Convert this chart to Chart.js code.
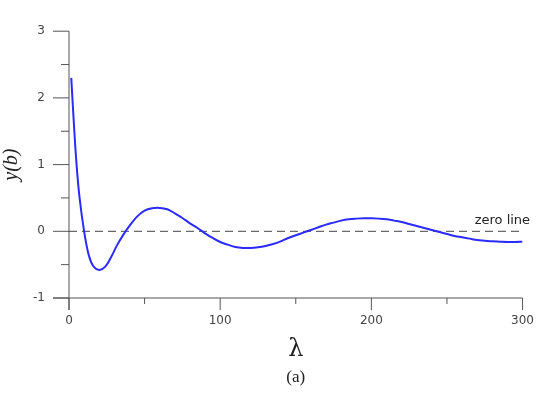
<!DOCTYPE html>
<html>
<head>
<meta charset="utf-8">
<script src="https://cdn.jsdelivr.net/npm/chart.js@4"></script>
<style>
  html, body { margin: 0; padding: 0; background: #fff; }
  #wrap { width: 550px; height: 404px; }
</style>
</head>
<body>
<div id="wrap"><canvas id="graf"></canvas></div>
<script>
// hodnoty
const lambdas = [1.5, 3, 5, 7, 10, 13, 16, 20, 24, 28, 32, 36, 40, 45, 50, 55, 60, 65, 70, 75, 80, 85, 90, 95, 100,
  105, 110, 115, 120, 125, 130, 135, 140, 145, 150, 155, 160, 165, 170, 175, 180, 185, 190, 195, 200,
  205, 210, 215, 220, 225, 230, 235, 240, 245, 250, 255, 260, 265, 270, 275, 280, 285, 290, 295, 300];
const yValues = [2.3, 1.7, 1.0, 0.5, 0.0, -0.35, -0.52, -0.58, -0.53, -0.38, -0.2, -0.05, 0.08, 0.22, 0.31, 0.345, 0.35, 0.33, 0.27, 0.2, 0.12, 0.05, -0.03, -0.1, -0.16,
  -0.2, -0.235, -0.25, -0.25, -0.24, -0.22, -0.19, -0.15, -0.1, -0.06, -0.02, 0.02, 0.06, 0.1, 0.13, 0.16, 0.18, 0.19, 0.195, 0.195,
  0.19, 0.18, 0.16, 0.14, 0.11, 0.08, 0.05, 0.02, -0.01, -0.04, -0.07, -0.09, -0.11, -0.13, -0.14, -0.15, -0.155, -0.16, -0.16, -0.155];
const zeroLine = [{x: 0, y: 0}, {x: 300, y: 0}];
const xMajor = [0, 100, 200, 300];
const xMinor = [50, 150, 250];
const yMajor = [-1, 0, 1, 2, 3];
const yMinor = [-0.5, 0.5, 1.5, 2.5];

const axisColor = '#555';

// osy, tiky a popisky kreslíme sami
const osyPlugin = {
  id: 'osy',
  afterDraw(chart) {
    const c = chart.ctx, xs = chart.scales.x, ys = chart.scales.y;
    const x0 = xs.getPixelForValue(0), y0 = ys.getPixelForValue(-1);
    c.save();
    c.strokeStyle = axisColor;
    c.lineWidth = 1;
    c.beginPath();
    c.moveTo(x0, ys.getPixelForValue(3)); c.lineTo(x0, y0 + 12);
    c.moveTo(x0 - 16, y0); c.lineTo(xs.getPixelForValue(300), y0);
    yMajor.forEach(v => { const p = ys.getPixelForValue(v); c.moveTo(x0 - 16, p); c.lineTo(x0, p); });
    yMinor.forEach(v => { const p = ys.getPixelForValue(v); c.moveTo(x0 - 8, p); c.lineTo(x0, p); });
    xMajor.forEach(v => { const p = xs.getPixelForValue(v); c.moveTo(p, y0); c.lineTo(p, y0 + 12); });
    xMinor.forEach(v => { const p = xs.getPixelForValue(v); c.moveTo(p, y0); c.lineTo(p, y0 + 6); });
    c.stroke();
    c.fillStyle = '#222';
    c.font = '13px "DejaVu Sans"';
    c.textAlign = 'right';
    c.textBaseline = 'bottom';
    c.fillText('zero line', xs.getPixelForValue(305), ys.getPixelForValue(0) - 4);
    c.textAlign = 'center';
    c.textBaseline = 'middle';
    c.font = '24px "DejaVu Serif"';
    c.fillText('λ', xs.getPixelForValue(150), 350);
    c.font = '17px "Liberation Serif"';
    c.fillText('(a)', xs.getPixelForValue(150), 378);
    c.restore();
  }
};

new Chart(document.getElementById('graf'), {
  type: 'scatter',
  data: {
    datasets: [{
      data: lambdas.map((l, i) => ({x: l, y: yValues[i]})),
      showLine: true,
      borderColor: '#2b2bff',
      borderWidth: 2,
      pointRadius: 0,
      tension: 0.4
    }, {
      data: zeroLine,
      showLine: true,
      borderColor: '#444',
      borderWidth: 1,
      borderDash: [8, 5],
      pointRadius: 0
    }]
  },
  options: {
    responsive: true,
    maintainAspectRatio: false,
    animation: false,
    layout: { padding: { top: 0, right: 20, left: 0, bottom: 0 } },
    plugins: { legend: { display: false }, tooltip: { enabled: false } },
    scales: {
      x: {
        type: 'linear', min: 0, max: 300,
        afterFit: s => { s.height = 106; },
        grid: { display: false, drawTicks: false },
        border: { display: false },
        ticks: { stepSize: 100, padding: 16, color: '#444', font: { family: 'DejaVu Sans', size: 12 } }
      },
      y: {
        min: -1, max: 3,
        afterFit: s => { s.width = 69; },
        grid: { display: false, drawTicks: false },
        border: { display: false },
        ticks: { stepSize: 1, padding: 24, color: '#444', font: { family: 'DejaVu Sans', size: 12 } },
        title: { display: true, text: 'y(b)', color: '#222', font: { family: 'Liberation Serif', size: 20, style: 'italic' }, padding: 0 }
      }
    }
  },
  plugins: [osyPlugin]
});
</script>
</body>
</html>
